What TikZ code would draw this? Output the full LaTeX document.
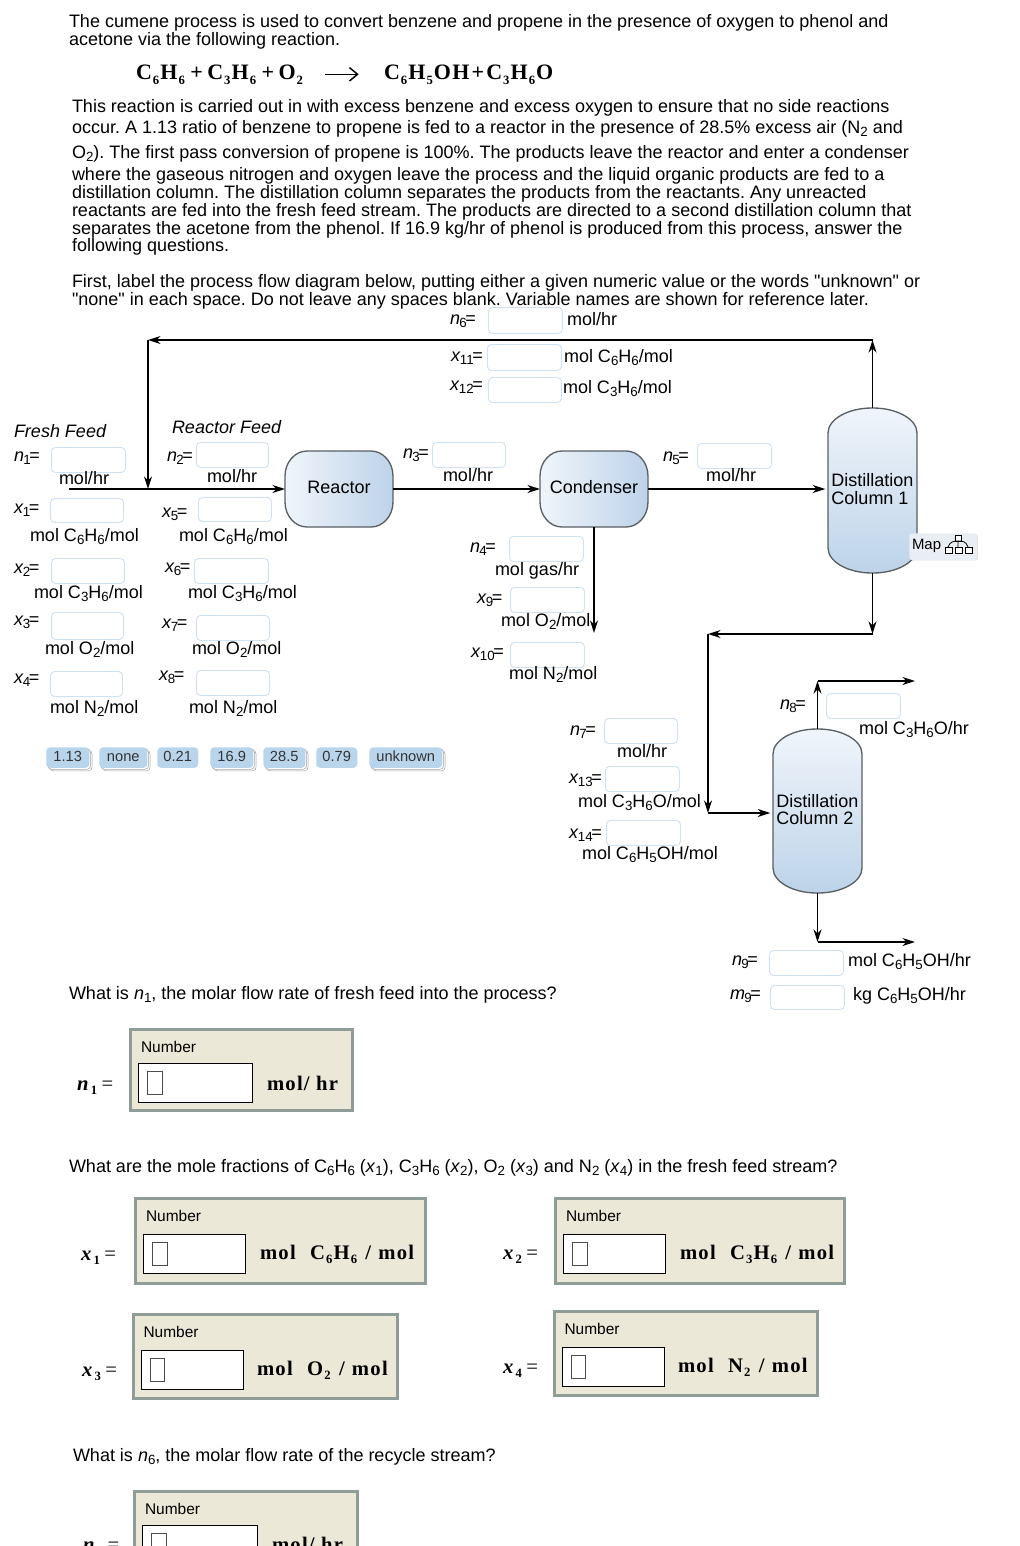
\documentclass[tikz,border=0pt]{standalone}
\usepackage{fontspec}
\setmainfont{Liberation Sans}
\newfontfamily\eqfont[LetterSpace=6]{Liberation Serif}
\newfontfamily\plainfont{Liberation Sans}
\usetikzlibrary{positioning,arrows.meta,shadows}
\definecolor{blankline}{HTML}{CFE2F3}
\definecolor{vesselline}{HTML}{5A5F63}
\definecolor{vessellight}{HTML}{F0F5FB}
\definecolor{vesselblue}{HTML}{BDD3E9}
\definecolor{chipblue}{HTML}{B9D5EC}
\definecolor{panelfill}{HTML}{EBE8D8}
\definecolor{panelline}{HTML}{8F9C97}
\definecolor{mapfill}{HTML}{E9EEF5}
\newcommand{\sbs}[1]{\raisebox{-.35ex}{\fontsize{10}{10}\selectfont #1}}
\newcommand{\chs}[1]{\kern.8pt\raisebox{-.5ex}{\fontsize{9.5}{9.5}\selectfont #1}\kern.8pt}
\newcommand{\dq}{{\plainfont\char34 }}
\frenchspacing
\tikzset{
  every node/.style={font=\fontsize{13.5}{15}\selectfont},
  lbl/.style={anchor=base west,inner sep=0pt,outer sep=0pt},
  eqn/.style={lbl,font=\fontsize{16.5}{19}\eqfont\bfseries},
  unit/.style={lbl,font=\fontsize{15.5}{18}\eqfont\bfseries},
  blank/.style={draw=blankline,fill=white,rounded corners=3pt,anchor=north west,inner sep=0pt,line width=.7pt},
  flow/.style={line width=1.2pt,-{Stealth[length=9.5pt,width=6pt]}},
  chip/.style={fill=chipblue,rounded corners=3pt,anchor=north west,inner sep=0pt,text height=8pt,text depth=2.5pt,font=\fontsize{11}{13}\selectfont,text=black!80},
  stacked/.style={double copy shadow={shadow xshift=1.1pt,shadow yshift=-1.1pt,fill=white,draw=black!35}},
  panel/.style={draw=panelline,fill=panelfill,line width=2.4pt,anchor=north west,inner sep=0pt},
  inputbox/.style={draw=black,fill=white,line width=.6pt,anchor=north west,inner sep=0pt,minimum height=29pt},
  cursorbox/.style={draw=black!70,fill=white,line width=.5pt,anchor=north west,inner sep=0pt,minimum width=11.2pt,minimum height=17.5pt},
}
\NewDocumentCommand{\drawvessel}{ m m m m m m m m m }
{
  \draw[draw=vesselline,line width=1pt,#8] (#2,{#3+#7}) .. controls (#2,{#3+.45*#7}) and ({#2+.45*#6},#3) .. ({#2+#6},#3) -- ({#4-#6},#3) .. controls ({#4-.45*#6},#3) and (#4,{#3+.45*#7}) .. (#4,{#3+#7}) -- (#4,{#5-#7}) .. controls (#4,{#5-.45*#7}) and ({#4-.45*#6},#5) .. ({#4-#6},#5) -- ({#2+#6},#5) .. controls ({#2+.45*#6},#5) and (#2,{#5-.45*#7}) .. (#2,{#5-#7}) -- cycle;
  \node[minimum width={(#4-#2)*.75pt},minimum height={(#5-#3)*.75pt},inner sep=0pt,outer sep=0pt] (#1) at ({(#2+#4)/2},{(#3+#5)/2}) {};
  \node[inner sep=0pt,align=left] (#1text) at ([yshift=1.2pt]#1.center) {#9};
}
\NewDocumentCommand{\drawnumberbox}{ m m m m m m m }
{
  \node[panel,minimum width={(#4-#2-3)*.75pt},minimum height={(#5-#3-3)*.75pt}] (#1) at (#2,#3) {};
  \node[lbl,font=\fontsize{11.6}{13}\selectfont] (#1label) at ({#2+12},{#3+24}) {Number};
  \node[inputbox,minimum width={#6*.75pt}] (#1input) at ({#2+9},{#3+#7}) {};
  \node[cursorbox] (#1cursor) at ({#2+18},{#3+#7+8}) {};
}
\begin{document}
\begin{tikzpicture}[x=.75pt,y=-.75pt]
  \useasboundingbox (0,0) rectangle (1020,1546);
  \clip (0,0) rectangle (1020,1546);
  \foreach \nm/\xp/\yp/\txt in {intro1/69/27/{The cumene process is used to convert benzene and propene in the presence of oxygen to phenol and},intro2/69/45/{acetone via the following reaction.},para1/72/112/{This reaction is carried out in with excess benzene and excess oxygen to ensure that no side reactions},para2/72/133/{occur. A 1.13 ratio of benzene to propene is fed to a reactor in the presence of 28.5\% excess air (N\sbs{2} and},para3/72/158/{O\sbs{2}). The first pass conversion of propene is 100\%. The products leave the reactor and enter a condenser},para4/72/180/{where the gaseous nitrogen and oxygen leave the process and the liquid organic products are fed to a},para5/72/198/{distillation column. The distillation column separates the products from the reactants. Any unreacted},para6/72/216/{reactants are fed into the fresh feed stream. The products are directed to a second distillation column that},para7/72/234/{separates the acetone from the phenol. If 16.9 kg/hr of phenol is produced from this process, answer the},para8/72/251/{following questions.},first1/72/287/{First, label the process flow diagram below, putting either a given numeric value or the words \dq{}unknown\dq{} or},first2/72/305/{\dq{}none\dq{} in each space. Do not leave any spaces blank. Variable names are shown for reference later.},ques1/69/999/{What is \textit{n}\sbs{1}, the molar flow rate of fresh feed into the process?},ques2/69/1172/{What are the mole fractions of C\sbs{6}H\sbs{6} (\textit{x}\sbs{1}), C\sbs{3}H\sbs{6} (\textit{x}\sbs{2}), O\sbs{2} (\textit{x}\sbs{3}) and N\sbs{2} (\textit{x}\sbs{4}) in the fresh feed stream?},ques3/73/1461/{What is \textit{n}\sbs{6}, the molar flow rate of the recycle stream?}}
    \node[lbl] (\nm) at (\xp,\yp) {\txt};
  \node[eqn] (eqleft) at (136,79) {C\chs{6}H\chs{6}\kern3.3pt+\kern3.3pt C\chs{3}H\chs{6}\kern3.3pt+\kern3.3pt O\chs{2}};
  \node[eqn] (eqright) at (384,79) {C\chs{6}H\chs{5}OH\kern1.6pt+\kern1.6pt C\chs{3}H\chs{6}O};
  \draw[-{Straight Barb[length=6pt,width=10pt]},line width=1.1pt,shorten <=16pt,shorten >=19pt,yshift=1.5pt] (eqleft.east) -- (eqright.west);
  \drawvessel{reactor}{285}{451}{393}{527}{22}{25}{left color=vessellight,right color=vesselblue}{Reactor};
  \drawvessel{condenser}{540}{451}{648}{527}{22}{25}{left color=vessellight,right color=vesselblue}{Condenser};
  \drawvessel{column1}{828}{408}{917}{573}{44}{25}{top color=vessellight,bottom color=vesselblue}{Distillation\\[-2pt]Column 1};
  \drawvessel{column2}{773}{729}{862}{893}{44}{25}{top color=vessellight,bottom color=vesselblue}{Distillation\\[-2pt]Column 2};
  \foreach \nm/\xa/\ya/\xb/\yb in {n6box/488/307/562/333,x11box/487/344/561/370,x12box/488/377/561/402,n1box/51/447/125/472,n2box/196/442/268/467,x1box/50/498/123/522,x5box/198/497/271/521,x2box/51/558/124/583,x6box/194/558/268/583,x3box/51/612/123/639,x7box/196/615/269/640,x4box/50/671/122/696,x8box/196/670/269/695,n3box/432/442/505/467,n5box/697/443/771/468,n4box/509/536/583/561,x9box/510/587/584/612,x10box/510/642/584/667,n7box/604/718/677/743,x13box/605/766/679/791,x14box/606/820/680/845,n8box/826/693/900/718,n9box/769/950/843/975,m9box/770/985/844/1009}
    \node[blank,minimum width={(\xb-\xa)*.75pt},minimum height={(\yb-\ya)*.75pt}] (\nm) at (\xa,\ya) {};
  \node[lbl] (freshfeed) at (14,437) {\textit{Fresh Feed}};
  \node[lbl] (reactorfeed) at (172,433) {\textit{Reactor Feed}};
  \foreach \nm/\xp/\yp/\vn/\idx in {n6lab/450/324/n/6,x11lab/451/361/x/{11},x12lab/450/390/x/{12},n1lab/14/461/n/1,n2lab/167/461/n/2,x1lab/14/513/x/1,x5lab/162/517/x/5,x2lab/14/573/x/2,x6lab/165/572/x/6,x3lab/14/625/x/3,x7lab/162/628/x/7,x4lab/14/683/x/4,x8lab/159/680/x/8,n3lab/403/458/n/3,n5lab/663/461/n/5,n4lab/470/552/n/4,x9lab/477/603/x/9,x10lab/471/657/x/{10},n7lab/570/735/n/7,x13lab/569/783/x/{13},x14lab/569/838/x/{14},n8lab/780/709/n/8,n9lab/732/965/n/9,m9lab/730/999/m/9}
    \node[lbl] (\nm) at (\xp,\yp) {\textit{\vn}\kern-.5pt\sbs{\idx}\kern-1pt=};
  \foreach \nm/\xp/\yp/\txt in {n6unit/567/325/{mol/hr},x11unit/564/362/{mol C\sbs{6}H\sbs{6}/mol},x12unit/563/393/{mol C\sbs{3}H\sbs{6}/mol},n1unit/59/484/{mol/hr},n2unit/207/482/{mol/hr},x1unit/30/541/{mol C\sbs{6}H\sbs{6}/mol},x5unit/179/541/{mol C\sbs{6}H\sbs{6}/mol},x2unit/34/598/{mol C\sbs{3}H\sbs{6}/mol},x6unit/188/598/{mol C\sbs{3}H\sbs{6}/mol},x3unit/45/654/{mol O\sbs{2}/mol},x7unit/192/654/{mol O\sbs{2}/mol},x4unit/50/713/{mol N\sbs{2}/mol},x8unit/189/713/{mol N\sbs{2}/mol},n3unit/443/481/{mol/hr},n5unit/706/481/{mol/hr},n4unit/495/575/{mol gas/hr},x9unit/501/626/{mol O\sbs{2}/mol},x10unit/509/679/{mol N\sbs{2}/mol},n7unit/617/757/{mol/hr},x13unit/578/807/{mol C\sbs{3}H\sbs{6}O/mol},x14unit/582/859/{mol C\sbs{6}H\sbs{5}OH/mol},n8unit/859/734/{mol C\sbs{3}H\sbs{6}O/hr},n9unit/848/966/{mol C\sbs{6}H\sbs{5}OH/hr},m9unit/853/1000/{kg C\sbs{6}H\sbs{5}OH/hr}}
    \node[lbl] (\nm) at (\xp,\yp) {\txt};
  \coordinate (feedstart) at (69,489);
  \coordinate (recycleright) at (872.5,340);
  \coordinate (recycleleft) at (148,340);
  \coordinate (recyclejoin) at (148,489);
  \coordinate (wastejoin) at (594,633);
  \coordinate (bottomsright) at (872.5,634);
  \coordinate (bottomsleft) at (708,634);
  \coordinate (bottomsdown) at (708,813);
  \coordinate (topbend) at (817.5,681);
  \coordinate (topout) at (915,681);
  \coordinate (bottombend) at (817.5,942);
  \coordinate (bottomout) at (915,942);
  \draw[flow] (feedstart) -- (reactor.west);
  \draw[flow] (reactor.east) -- (condenser.west);
  \draw[flow,shorten >=2pt] (condenser.east) -- (condenser.east -| column1.west);
  \draw[flow] (condenser.south) -- (wastejoin);
  \draw[flow] (column1.north) -- (recycleright);
  \draw[flow] (recycleright) -- (recycleleft);
  \draw[flow] (recycleleft) -- (recyclejoin);
  \draw[flow] (column1.south) -- (bottomsright);
  \draw[flow] (bottomsright) -- (bottomsleft);
  \draw[flow] (bottomsleft) -- (bottomsdown);
  \draw[flow,shorten >=2pt] (bottomsdown) -- (bottomsdown -| column2.west);
  \draw[flow] (column2.north) -- (topbend);
  \draw[flow] (topbend) -- (topout);
  \draw[flow] (column2.south) -- (bottombend);
  \draw[flow] (bottombend) -- (bottomout);
  \node[fill=mapfill,rounded corners=2pt,anchor=north west,inner sep=0pt,minimum width=51pt,minimum height=20pt,drop shadow={shadow xshift=.4pt,shadow yshift=-.4pt,opacity=.3}] (mapbtn) at (909,533) {};
  \node[lbl,font=\fontsize{11.2}{13}\selectfont] (maptext) at (912,549) {Map};
  \draw[line width=.4pt,fill=white] (955,535) rectangle (961,541) (945,547) rectangle (952,553) (955,547) rectangle (962,553) (965,547) rectangle (972,553);
  \draw[line width=.6pt] (948,547) .. controls (950,541) and (955,541) .. (958,541) .. controls (962,541) and (966,541) .. (968,547) (958,541) -- (958,547);
  \foreach \nm/\xa/\xb/\txt/\sty in {chipa/46/89/{1.13}/stacked,chipb/99/147/{none}/stacked,chipc/157/198/{0.21}/{},chipd/210/253/{16.9}/stacked,chipe/263/305/{28.5}/stacked,chipf/316/357/{0.79}/{},chipg/369/442/{unknown}/stacked}
    \node[chip,\sty,minimum width={(\xb-\xa)*.75pt},minimum height=15.5pt] (\nm) at (\xa,747) {\txt};
  \drawnumberbox{nonebox}{129}{1028}{354}{1112}{114}{35};
  \drawnumberbox{xonebox}{134}{1197}{427}{1285}{102}{37};
  \drawnumberbox{xtwobox}{554}{1197}{846}{1285}{102}{37};
  \drawnumberbox{xthreebox}{131.5}{1313}{399}{1400}{102}{37};
  \drawnumberbox{xfourbox}{552.5}{1310}{819}{1397}{102}{37};
  \drawnumberbox{nsixbox}{133}{1490}{359}{1575}{115}{35};
  \foreach \nm/\xp/\yp/\txt in {noneunit/267/1090/{mol/ hr},xoneunit/260/1259/{mol\hspace{.7em}C\chs{6}H\chs{6}\hspace{.35em}/\hspace{.35em}mol},xtwounit/680/1259/{mol\hspace{.7em}C\chs{3}H\chs{6}\hspace{.35em}/\hspace{.35em}mol},xthreeunit/257/1375/{mol\hspace{.7em}O\chs{2}\hspace{.35em}/\hspace{.35em}mol},xfourunit/678/1372/{mol\hspace{.7em}N\chs{2}\hspace{.35em}/\hspace{.35em}mol},nsixunit/272/1551/{mol/ hr}}
    \node[unit] (\nm) at (\xp,\yp) {\txt};
  \foreach \nm/\xp/\yp/\vn/\idx in {noneeq/77/1090/n/1,xoneeq/81/1260/x/1,xtwoeq/503/1259/x/2,xthreeeq/82/1376/x/3,xfoureq/503/1373/x/4,nsixeq/83/1551/n/6}
    \node[unit] (\nm) at (\xp,\yp) {\textit{\vn}\chs{\idx}\,{\mdseries =}};
\end{tikzpicture}
\end{document}
